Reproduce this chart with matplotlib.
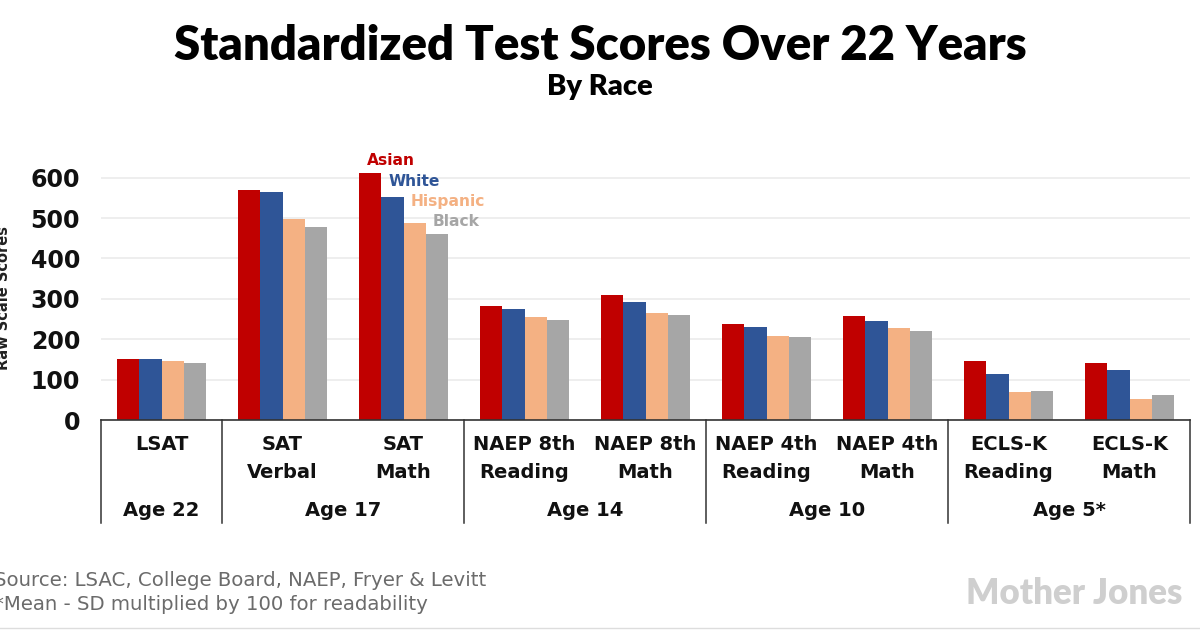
import numpy as np
import matplotlib
matplotlib.use("Agg")
import matplotlib.pyplot as plt
from matplotlib.lines import Line2D

# data
tests = ["LSAT", "SAT\nVerbal", "SAT\nMath", "NAEP 8th\nReading", "NAEP 8th\nMath",
         "NAEP 4th\nReading", "NAEP 4th\nMath", "ECLS-K\nReading", "ECLS-K\nMath"]
races = ["Asian", "White", "Hispanic", "Black"]
asian = [150, 569, 612, 282, 309, 238, 258, 146, 141]
white = [150, 564, 553, 274, 291, 229, 246, 114, 125]
hispanic = [146, 498, 487, 254, 266, 207, 228, 70, 52]
black = [140, 478, 460, 248, 259, 205, 221, 72, 61]
ages = ["Age 22", "Age 17", "Age 14", "Age 10", "Age 5*"]
age_spans = [(0, 0), (1, 2), (3, 4), (5, 6), (7, 8)]

colors = ["#C00000", "#2F5597", "#F4B183", "#A6A6A6"]
title_font = ["Lato", "DejaVu Sans"]
label_font = "DejaVu Sans"

fig = plt.figure(figsize=(12, 6.3), dpi=100)
fig.patch.set_facecolor("white")

# axes placed so y=0 sits at pixel 420 and the plot spans x 101..1190
ax = fig.add_axes([101 / 1200, 1 - 420 / 630, (1190 - 101) / 1200, 660 * 0.404 / 630])
ax.set_xlim(-0.5, 8.5)
ax.set_ylim(0, 660)

x = np.arange(len(tests))
bw = 0.182
for i, (vals, c) in enumerate(zip([asian, white, hispanic, black], colors)):
    ax.bar(x + (i - 1.5) * bw, vals, width=bw, color=c, zorder=3)

ax.set_yticks([0, 100, 200, 300, 400, 500, 600])
ax.set_yticklabels(["0", "100", "200", "300", "400", "500", "600"],
                   fontsize=17, fontweight="bold", family=label_font, color="#111111")
ax.tick_params(axis="y", length=0, pad=15)
ax.tick_params(axis="x", length=0, labelbottom=False)
ax.grid(axis="y", color="#EBEBEB", linewidth=1.2, zorder=0)
for s in ["top", "right", "left"]:
    ax.spines[s].set_visible(False)
ax.spines["bottom"].set_color("#333333")
ax.spines["bottom"].set_linewidth(1.2)
ax.spines["bottom"].set_zorder(4)

# legend labels stacked next to SAT Math bars
leg_x = [2 - 1.5 * bw - 0.03, 2 - 0.5 * bw - 0.035, 2 + 0.5 * bw - 0.03, 2 + 1.5 * bw - 0.035]
leg_y = [643, 591, 541, 492]
for r, c, lx, ly in zip(races, colors, leg_x, leg_y):
    ax.text(lx, ly, r, color=c, fontsize=11.2, fontweight="bold", family=label_font,
            ha="left", va="center")

# table under the axis
trans = ax.get_xaxis_transform()
px = 1 / (660 * 0.404)  # one pixel in axes y units
for b in [-0.5, 0.5, 2.5, 4.5, 6.5, 8.5]:
    ax.add_line(Line2D([b, b], [0, -103 * px], transform=trans, color="#333333",
                       linewidth=1.1, clip_on=False))
for xi, t in zip(x, tests):
    for j, line in enumerate(t.split("\n")):
        ax.text(xi, -(25 + 27 * j) * px, line, transform=trans, ha="center", va="center",
                fontsize=14, fontweight="bold", family=label_font, color="#111111")
for a, (s, e) in zip(ages, age_spans):
    ax.text((s + e) / 2, -90 * px, a, transform=trans, ha="center", va="center",
            fontsize=14, fontweight="bold", family=label_font, color="#111111")

# titles
fig.text(0.5, 1 - 46 / 630, "Standardized Test Scores Over 22 Years", ha="center", va="center",
         fontsize=34, fontweight="heavy", family=title_font)
fig.text(0.5, 1 - 87 / 630, "By Race", ha="center", va="center",
         fontsize=21, fontweight="heavy", family=title_font)

fig.text(4 / 1200, 1 - 298 / 630, "Raw Scale Scores", rotation=90, ha="center", va="center",
         fontsize=10.5, fontweight="bold", family=label_font, color="#222222")

# footer
fig.text(-6 / 1200, 1 - 580 / 630, "Source: LSAC, College Board, NAEP, Fryer & Levitt",
         ha="left", va="center", fontsize=14.2, color="#6B6B6B", family="DejaVu Sans")
fig.text(-6 / 1200, 1 - 605 / 630, "*Mean - SD multiplied by 100 for readability",
         ha="left", va="center", fontsize=14.2, color="#6B6B6B", family="DejaVu Sans")
fig.text(1182 / 1200, 1 - 594 / 630, "Mother Jones", ha="right", va="center",
         fontsize=25, fontweight="heavy", color="#CFCFCF", family=title_font)
fig.add_artist(Line2D([0, 1], [1 - 628 / 630] * 2, transform=fig.transFigure,
                      color="#DDDDDD", linewidth=1))

fig.savefig("out.png", dpi=100, facecolor="white")
